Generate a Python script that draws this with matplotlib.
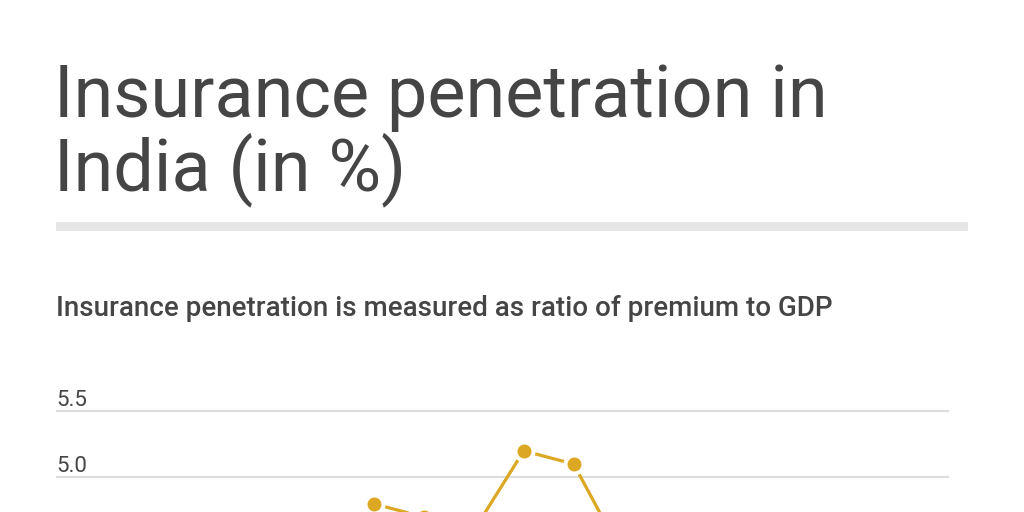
import matplotlib
matplotlib.use('Agg')
import matplotlib.pyplot as plt
from matplotlib.patches import Rectangle

# Insurance penetration in India (total, % of GDP), fiscal years
years = ['2001', '2002', '2003', '2004', '2005', '2006', '2007', '2008', '2009',
         '2010', '2011', '2012', '2013', '2014', '2015', '2016', '2017', '2018']
penetration = [2.71, 3.14, 2.88, 3.17, 3.14, 4.10, 4.80, 4.70, 4.60,
               5.20, 5.10, 4.40, 3.96, 3.90, 3.30, 3.44, 3.49, 3.69]
yticks = [5.0, 5.5]  # only these two fall inside the picture

title_lines = ['Insurance penetration in', 'India (in %)']
subtitle = 'Insurance penetration is measured as ratio of premium to GDP'

W, H = 1024, 512
text_color = '#454545'
line_color = '#DCA823'
grid_color = '#DDDDDD'

plt.rcParams['font.family'] = ['Roboto', 'DejaVu Sans']

fig = plt.figure(figsize=(W / 100, H / 100), dpi=100)
fig.patch.set_facecolor('white')


def fx(px):
    return px / W


def fy(py):
    return 1 - py / H


for line, base in zip(title_lines, [117, 190]):
    fig.text(fx(54), fy(base), line, fontsize=51.8, color=text_color,
             ha='left', va='baseline')
fig.patches.append(Rectangle((fx(56), fy(231)), fx(968) - fx(56), fy(222) - fy(231),
                             transform=fig.transFigure, facecolor='#E6E6E6',
                             edgecolor='none'))
fig.text(fx(56), fy(316), subtitle, fontsize=20, color=text_color,
         fontweight='medium', ha='left', va='baseline')

# plot area runs past the bottom edge of the picture
ax = fig.add_axes([fx(56), fy(768), fx(949) - fx(56), fy(380) - fy(768)])
ax.set_xlim(-0.373, 17.52)
ax.set_ylim(2.808, 5.734)
for s in ax.spines.values():
    s.set_visible(False)
ax.set_xticks([])
ax.set_yticks([])
for t in yticks:
    ax.axhline(t, color=grid_color, lw=1.6, zorder=1)
    ax.annotate(f'{t:.1f}', xy=(0, t), xycoords=ax.get_yaxis_transform(),
                xytext=(0, 3.6), textcoords='offset points', ha='left', va='baseline',
                fontsize=16, color=text_color)

x = list(range(len(years)))
ax.plot(x, penetration, color=line_color, lw=2.3, zorder=2, solid_capstyle='butt')
ax.plot(x, penetration, ls='none', marker='o', ms=13, mfc=line_color,
        mec='white', mew=2.9, zorder=3)

fig.savefig('out.png', dpi=100, facecolor='white')
